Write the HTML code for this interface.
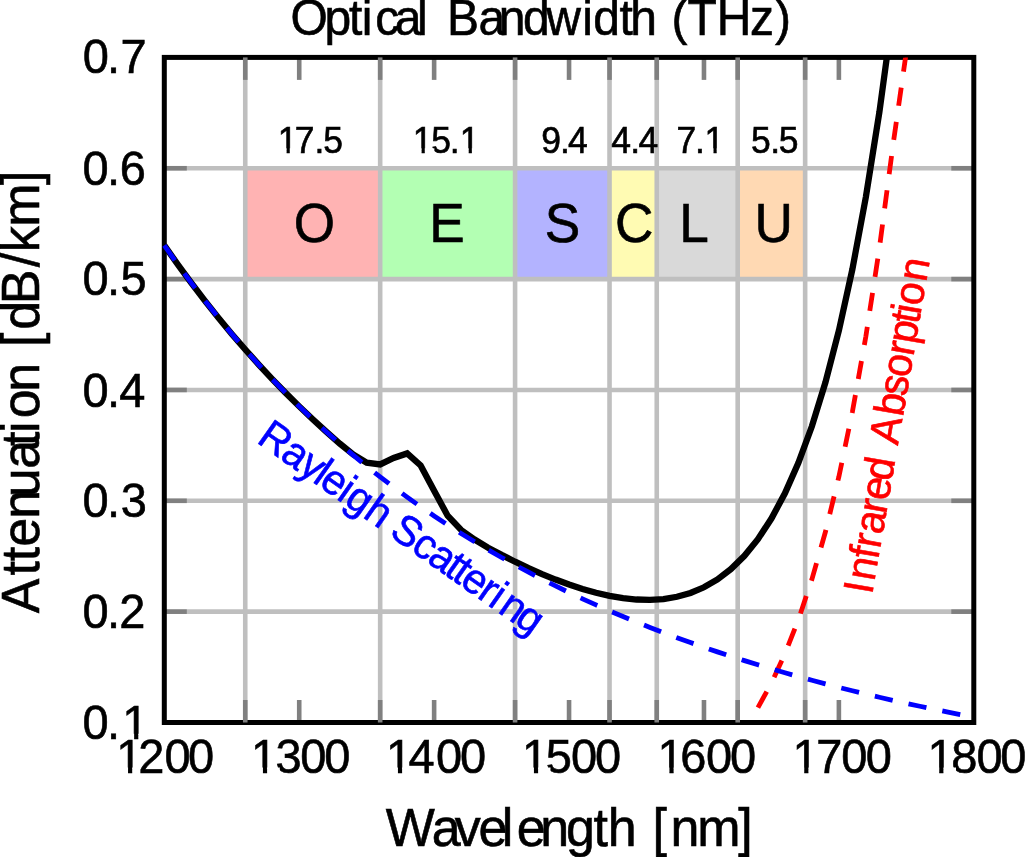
<!DOCTYPE html>
<html lang="en"><head><meta charset="utf-8"><title>Optical fiber attenuation</title>
<style>html,body{margin:0;padding:0;background:#fff;overflow:hidden}svg{display:block}text{white-space:pre}</style>
</head><body>
<svg width="1025" height="857" viewBox="0 0 1025 857">
<rect width="1025" height="857" fill="#fff"/>
<defs>
<clipPath id="c"><rect x="161.8" y="57.4" width="814.5" height="667.6"/></clipPath>
<clipPath id="k1"><path clip-rule="evenodd" d="M-3000,-3000H3000V3000H-3000ZM115.76,-5.51H128.04V4.59H115.76ZM132.19,-5.51H140.40V4.59H132.19Z"/></clipPath>
<clipPath id="k2"><path clip-rule="evenodd" d="M-3000,-3000H3000V3000H-3000ZM250.66,-5.51H262.94V4.59H250.66ZM267.09,-5.51H279.81V4.59H267.09Z"/></clipPath>
<clipPath id="k3"><path clip-rule="evenodd" d="M-3000,-3000H3000V3000H-3000ZM385.66,-5.51H397.94V4.59H385.66ZM402.09,-5.51H412.42V4.59H402.09Z"/></clipPath>
<clipPath id="k4"><path clip-rule="evenodd" d="M-3000,-3000H3000V3000H-3000ZM521.66,-5.51H533.94V4.59H521.66ZM538.09,-5.51H550.52V4.59H538.09Z"/></clipPath>
<clipPath id="k5"><path clip-rule="evenodd" d="M-3000,-3000H3000V3000H-3000ZM657.16,-5.51H669.44V4.59H657.16ZM673.59,-5.51H685.52V4.59H673.59Z"/></clipPath>
<clipPath id="k6"><path clip-rule="evenodd" d="M-3000,-3000H3000V3000H-3000ZM791.96,-5.51H804.24V4.59H791.96ZM808.39,-5.51H821.11V4.59H808.39Z"/></clipPath>
<clipPath id="k7"><path clip-rule="evenodd" d="M-3000,-3000H3000V3000H-3000ZM926.96,-5.51H939.24V4.59H926.96ZM943.39,-5.51H956.02V4.59H943.39Z"/></clipPath>
<clipPath id="k8"><path clip-rule="evenodd" d="M-3000,-3000H3000V3000H-3000ZM121.86,-5.51H134.14V4.59H121.86ZM138.29,-5.51H151.01V4.59H138.29Z"/></clipPath>
<clipPath id="k9"><path clip-rule="evenodd" d="M-3000,-3000H3000V3000H-3000ZM277.35,-4.16H286.62V3.47H277.35ZM289.76,-4.16H298.73V3.47H289.76Z"/></clipPath>
<clipPath id="k10"><path clip-rule="evenodd" d="M-3000,-3000H3000V3000H-3000ZM412.35,-4.16H421.62V3.47H412.35ZM424.76,-4.16H434.36V3.47H424.76ZM459.45,-4.16H468.72V3.47H459.45ZM471.86,-4.16H481.46V3.47H471.86Z"/></clipPath>
<clipPath id="k11"><path clip-rule="evenodd" d="M-3000,-3000H3000V3000H-3000ZM704.25,-4.16H713.52V3.47H704.25ZM716.66,-4.16H726.26V3.47H716.66Z"/></clipPath>
</defs>
<rect x="245.25" y="168.25" width="134.92" height="110.85" fill="#ffb3b3"/>
<rect x="380.17" y="168.25" width="134.92" height="110.85" fill="#b3ffb3"/>
<rect x="515.08" y="168.25" width="94.44" height="110.85" fill="#b3b3ff"/>
<rect x="609.53" y="168.25" width="47.22" height="110.85" fill="#fffbb3"/>
<rect x="656.75" y="168.25" width="80.95" height="110.85" fill="#d9d9d9"/>
<rect x="737.70" y="168.25" width="67.46" height="110.85" fill="#ffd9b3"/>
<g stroke="#bfbfbf" stroke-width="4.6">
<line x1="164.3" x2="973.8" y1="611.65" y2="611.65"/>
<line x1="164.3" x2="973.8" y1="500.80" y2="500.80"/>
<line x1="164.3" x2="973.8" y1="389.95" y2="389.95"/>
<line x1="164.3" x2="973.8" y1="279.10" y2="279.10"/>
<line x1="164.3" x2="973.8" y1="168.25" y2="168.25"/>
<line x1="245.25" x2="245.25" y1="722.5" y2="57.4"/>
<line x1="380.17" x2="380.17" y1="722.5" y2="57.4"/>
<line x1="515.08" x2="515.08" y1="722.5" y2="57.4"/>
<line x1="609.53" x2="609.53" y1="722.5" y2="57.4"/>
<line x1="656.75" x2="656.75" y1="722.5" y2="57.4"/>
<line x1="737.70" x2="737.70" y1="722.5" y2="57.4"/>
<line x1="805.15" x2="805.15" y1="722.5" y2="57.4"/>
</g>
<g stroke="#808080" stroke-width="4.6">
<line x1="164.3" x2="186.8" y1="611.65" y2="611.65"/>
<line x1="973.8" x2="951.3" y1="611.65" y2="611.65"/>
<line x1="164.3" x2="186.8" y1="500.80" y2="500.80"/>
<line x1="973.8" x2="951.3" y1="500.80" y2="500.80"/>
<line x1="164.3" x2="186.8" y1="389.95" y2="389.95"/>
<line x1="973.8" x2="951.3" y1="389.95" y2="389.95"/>
<line x1="164.3" x2="186.8" y1="279.10" y2="279.10"/>
<line x1="973.8" x2="951.3" y1="279.10" y2="279.10"/>
<line x1="164.3" x2="186.8" y1="168.25" y2="168.25"/>
<line x1="973.8" x2="951.3" y1="168.25" y2="168.25"/>
<line x1="299.22" x2="299.22" y1="722.5" y2="700.0"/>
<line x1="299.22" x2="299.22" y1="57.4" y2="79.9"/>
<line x1="434.13" x2="434.13" y1="722.5" y2="700.0"/>
<line x1="434.13" x2="434.13" y1="57.4" y2="79.9"/>
<line x1="569.05" x2="569.05" y1="722.5" y2="700.0"/>
<line x1="569.05" x2="569.05" y1="57.4" y2="79.9"/>
<line x1="703.97" x2="703.97" y1="722.5" y2="700.0"/>
<line x1="703.97" x2="703.97" y1="57.4" y2="79.9"/>
<line x1="838.88" x2="838.88" y1="722.5" y2="700.0"/>
<line x1="838.88" x2="838.88" y1="57.4" y2="79.9"/>
</g>
<rect x="164.3" y="57.4" width="809.50" height="665.10" fill="none" stroke="#000" stroke-width="5"/>
<g stroke="#808080" stroke-width="4.6">
<line x1="245.25" x2="245.25" y1="722.5" y2="700.0"/>
<line x1="245.25" x2="245.25" y1="57.4" y2="79.9"/>
<line x1="380.17" x2="380.17" y1="722.5" y2="700.0"/>
<line x1="380.17" x2="380.17" y1="57.4" y2="79.9"/>
<line x1="515.08" x2="515.08" y1="722.5" y2="700.0"/>
<line x1="515.08" x2="515.08" y1="57.4" y2="79.9"/>
<line x1="609.53" x2="609.53" y1="722.5" y2="700.0"/>
<line x1="609.53" x2="609.53" y1="57.4" y2="79.9"/>
<line x1="656.75" x2="656.75" y1="722.5" y2="700.0"/>
<line x1="656.75" x2="656.75" y1="57.4" y2="79.9"/>
<line x1="737.70" x2="737.70" y1="722.5" y2="700.0"/>
<line x1="737.70" x2="737.70" y1="57.4" y2="79.9"/>
<line x1="805.15" x2="805.15" y1="722.5" y2="700.0"/>
<line x1="805.15" x2="805.15" y1="57.4" y2="79.9"/>
</g>
<g clip-path="url(#c)" fill="none" stroke-linejoin="miter">
<path d="M164.30,245.31 L177.79,264.51 L191.28,282.93 L204.78,300.61 L218.27,317.59 L231.76,333.89 L245.25,349.56 L258.74,364.61 L272.23,379.08 L285.73,392.99 L299.22,406.37 L312.71,419.24 L326.20,431.62 L339.69,443.53 L353.18,454.44 L366.68,462.70 L380.17,464.44 L393.66,458.02 L407.15,453.43 L420.64,465.52 L434.13,490.76 L447.62,515.64 L461.12,529.95 L474.61,539.56 L488.10,547.70 L501.59,554.90 L515.08,561.71 L528.58,568.10 L542.07,574.06 L555.56,579.55 L569.05,584.53 L582.54,588.95 L596.03,592.74 L609.53,595.83 L623.02,598.12 L636.51,599.51 L650.00,599.87 L663.49,599.02 L676.98,596.79 L690.47,592.96 L703.97,587.28 L717.46,579.43 L730.95,569.07 L744.44,555.79 L757.93,539.12 L771.42,518.52 L784.92,493.34 L798.41,462.86 L811.90,426.25 L825.39,382.54 L838.88,330.63 L852.38,269.28 L865.87,197.05 L879.36,112.30 L892.85,13.19 L906.34,-102.39 L919.83,-236.81 L933.33,-392.76 L946.82,-573.29 L960.31,-781.80" stroke="#000" stroke-width="6.3"/>
<path d="M757.93,707.68 L771.42,683.03 L784.92,653.92 L798.41,619.63 L811.90,579.32 L825.39,532.02 L838.88,476.63 L852.38,411.89 L865.87,336.37 L879.36,248.43 L892.85,146.21 L905.53,57.40 L908.37,33.01" stroke="#ff0000" stroke-width="4.8" stroke-dasharray="18.3 16.23"/>
<path d="M164.30,245.31 L177.79,264.51 L191.28,282.94 L204.78,300.62 L218.27,317.60 L231.76,333.90 L245.25,349.57 L258.74,364.63 L272.23,379.11 L285.73,393.03 L299.22,406.42 L312.71,419.31 L326.20,431.71 L339.69,443.66 L353.18,455.16 L366.68,466.24 L380.17,476.92 L393.66,487.21 L407.15,497.14 L420.64,506.71 L434.13,515.94 L447.62,524.85 L461.12,533.45 L474.61,541.75 L488.10,549.77 L501.59,557.51 L515.08,564.99 L528.58,572.22 L542.07,579.21 L555.56,585.96 L569.05,592.49 L582.54,598.81 L596.03,604.92 L609.53,610.83 L623.02,616.56 L636.51,622.10 L650.00,627.46 L663.49,632.66 L676.98,637.69 L690.47,642.57 L703.97,647.29 L717.46,651.87 L730.95,656.31 L744.44,660.62 L757.93,664.79 L771.42,668.84 L784.92,672.77 L798.41,676.58 L811.90,680.28 L825.39,683.87 L838.88,687.36 L852.38,690.74 L865.87,694.03 L879.36,697.22 L892.85,700.33 L906.34,703.34 L919.83,706.27 L933.33,709.12 L946.82,711.89 L960.31,714.58" stroke="#0000ff" stroke-width="4.8" stroke-dasharray="18.3 16.23"/>
</g>
<g font-family="'Liberation Sans', Arial, Helvetica, sans-serif">
<text transform="translate(0,773.30) scale(1,1.035)" clip-path="url(#k1)" x="116.22 138.34 164.46 188.06" y="0" font-size="47" fill="#000" stroke="#000" stroke-width="0.6">1200</text>
<text transform="translate(0,773.30) scale(1,1.035)" clip-path="url(#k2)" x="251.12 275.41 300.36 324.36" y="0" font-size="47" fill="#000" stroke="#000" stroke-width="0.6">1300</text>
<text transform="translate(0,773.30) scale(1,1.035)" clip-path="url(#k3)" x="386.12 408.52 436.06 459.96" y="0" font-size="47" fill="#000" stroke="#000" stroke-width="0.6">1400</text>
<text transform="translate(0,773.30) scale(1,1.035)" clip-path="url(#k4)" x="522.12 545.82 571.06 594.96" y="0" font-size="47" fill="#000" stroke="#000" stroke-width="0.6">1500</text>
<text transform="translate(0,773.30) scale(1,1.035)" clip-path="url(#k5)" x="657.62 680.31 706.06 729.96" y="0" font-size="47" fill="#000" stroke="#000" stroke-width="0.6">1600</text>
<text transform="translate(0,773.30) scale(1,1.035)" clip-path="url(#k6)" x="792.42 816.29 841.36 865.66" y="0" font-size="47" fill="#000" stroke="#000" stroke-width="0.6">1700</text>
<text transform="translate(0,773.30) scale(1,1.035)" clip-path="url(#k7)" x="927.42 951.16 976.56 1000.26" y="0" font-size="47" fill="#000" stroke="#000" stroke-width="0.6">1800</text>
<text transform="translate(0,72.80) scale(1,1.035)" x="82.76 106.91 120.49" y="0" font-size="47" fill="#000" stroke="#000" stroke-width="0.6">0.7</text>
<text transform="translate(0,184.70) scale(1,1.035)" x="82.56 107.01 119.71" y="0" font-size="47" fill="#000" stroke="#000" stroke-width="0.6">0.6</text>
<text transform="translate(0,295.40) scale(1,1.035)" x="82.56 107.01 120.62" y="0" font-size="47" fill="#000" stroke="#000" stroke-width="0.6">0.5</text>
<text transform="translate(0,406.60) scale(1,1.035)" x="82.56 107.01 119.32" y="0" font-size="47" fill="#000" stroke="#000" stroke-width="0.6">0.4</text>
<text transform="translate(0,517.40) scale(1,1.035)" x="82.56 107.01 120.71" y="0" font-size="47" fill="#000" stroke="#000" stroke-width="0.6">0.3</text>
<text transform="translate(0,628.30) scale(1,1.035)" x="82.56 107.01 119.14" y="0" font-size="47" fill="#000" stroke="#000" stroke-width="0.6">0.2</text>
<text transform="translate(0,739.40) scale(1,1.035)" clip-path="url(#k8)" x="82.56 107.01 122.32" y="0" font-size="47" fill="#000" stroke="#000" stroke-width="0.6">0.1</text>
<text transform="translate(0,34.70) scale(1,1.035)" x="290.63 324.41 348.97 361.69 375.16 394.66 416.97 427.63 446.96 478.56 498.81 522.98 546.17 582.29 593.28 619.47 630.17 656.87 671.52 687.42 716.86 749.95 775.02" y="0" font-size="48" fill="#000" stroke="#000" stroke-width="0.6">Optical Bandwidth (THz)</text>
<text transform="translate(0,152.60) scale(1,1.035)" clip-path="url(#k9)" x="277.70 294.78 314.56 323.18" y="0" font-size="35.5" fill="#000" stroke="#000" stroke-width="0.6">17.5</text>
<text transform="translate(0,152.60) scale(1,1.035)" clip-path="url(#k10)" x="412.70 431.38 449.76 459.80" y="0" font-size="35.5" fill="#000" stroke="#000" stroke-width="0.6">15.1</text>
<text transform="translate(0,152.60) scale(1,1.035)" x="541.34 559.96 568.09" y="0" font-size="35.5" fill="#000" stroke="#000" stroke-width="0.6">9.4</text>
<text transform="translate(0,152.60) scale(1,1.035)" x="611.19 630.16 638.49" y="0" font-size="35.5" fill="#000" stroke="#000" stroke-width="0.6">4.4</text>
<text transform="translate(0,152.60) scale(1,1.035)" clip-path="url(#k11)" x="676.58 694.96 704.60" y="0" font-size="35.5" fill="#000" stroke="#000" stroke-width="0.6">7.1</text>
<text transform="translate(0,152.60) scale(1,1.035)" x="750.98 770.36 778.78" y="0" font-size="35.5" fill="#000" stroke="#000" stroke-width="0.6">5.5</text>
<text transform="translate(0,241.70) scale(1,1.035)" x="293.78" y="0" font-size="53.2" fill="#000" stroke="#000" stroke-width="0.6">O</text>
<text transform="translate(0,241.70) scale(1,1.035)" x="429.14" y="0" font-size="53.2" fill="#000" stroke="#000" stroke-width="0.6">E</text>
<text transform="translate(0,241.70) scale(1,1.035)" x="544.88" y="0" font-size="53.2" fill="#000" stroke="#000" stroke-width="0.6">S</text>
<text transform="translate(0,241.70) scale(1,1.035)" x="615.00" y="0" font-size="53.2" fill="#000" stroke="#000" stroke-width="0.6">C</text>
<text transform="translate(0,241.70) scale(1,1.035)" x="679.14" y="0" font-size="53.2" fill="#000" stroke="#000" stroke-width="0.6">L</text>
<text transform="translate(0,241.70) scale(1,1.035)" x="754.50" y="0" font-size="53.2" fill="#000" stroke="#000" stroke-width="0.6">U</text>
<text transform="translate(0,845.80) scale(1,1.035)" x="385.87 431.79 454.72 478.59 501.80 516.69 540.25 566.12 593.51 607.69 636.61 652.49 670.55 697.15 738.19" y="0" font-size="52" fill="#000" stroke="#000" stroke-width="0.6">Wavelength [nm]</text>
<text transform="translate(39.3,0) rotate(-90) scale(1,1.035)" x="-613.30 -575.59 -561.29 -546.81 -518.65 -497.28 -468.71 -445.99 -432.88 -418.38 -391.85 -362.93 -347.01 -329.88 -304.27 -267.30 -252.30 -226.85 -185.01" y="0" font-size="52" fill="#000" stroke="#000" stroke-width="0.6">Attenuation [dB/km]</text>
</g>
<g font-family="'Liberation Sans', Arial, Helvetica, sans-serif">
<text transform="translate(255.4,441.8) rotate(35.1) scale(1,1.035)" x="0.00 28.64 50.47 68.50 76.14 97.97 107.11 129.94 151.78 162.20 188.57 208.10 228.94 238.36 248.28 269.61 282.79 294.93 315.26" y="0" font-size="41" fill="#0000ff" stroke="#0000ff" stroke-width="0.6">Rayleigh Scattering</text>
<text transform="translate(872.0,595.3) rotate(-80.2) scale(1,1.035)" x="0.00 13.72 35.65 46.77 60.96 81.69 95.27 115.01 137.24 151.66 180.34 201.07 220.00 241.73 254.31 274.55 284.07 292.91 317.14" y="0" font-size="41" fill="#ff0000" stroke="#ff0000" stroke-width="0.6">Infrared Absorption</text>
</g>
</svg>
</body></html>
